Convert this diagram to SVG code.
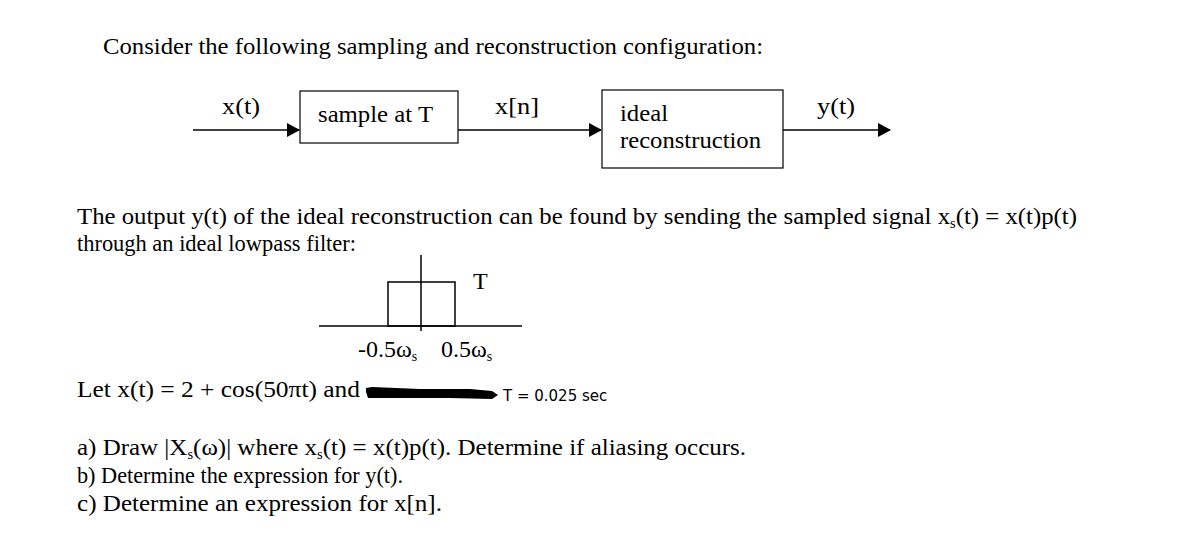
<svg xmlns="http://www.w3.org/2000/svg" width="1191" height="542" viewBox="0 0 1191 542">
<style>
text{font-family:"Liberation Serif",serif;font-size:24px;fill:#000}
.s{font-size:14px}
.box{fill:#fff;stroke:#000;stroke-width:1.2}
.ln{stroke:#000;stroke-width:1.5;fill:none}
</style>
<defs><marker id="a" markerWidth="14" markerHeight="14" refX="12" refY="7" orient="auto" markerUnits="userSpaceOnUse"><path d="M0,0 L13,7 L0,14 z"/></marker></defs>
<rect width="1191" height="542" fill="#fff"/>
<text x="103" y="54" textLength="660" lengthAdjust="spacingAndGlyphs">Consider the following sampling and reconstruction configuration:</text>
<g id="connectors">
<line class="ln" x1="193" y1="130" x2="299" y2="130" marker-end="url(#a)"/>
<line class="ln" x1="458" y1="130" x2="601" y2="130" marker-end="url(#a)"/>
<line class="ln" x1="783" y1="130" x2="890" y2="130" marker-end="url(#a)"/>
</g>
<text x="222" y="114" textLength="38" lengthAdjust="spacingAndGlyphs">x(t)</text>
<text x="495" y="114" textLength="44" lengthAdjust="spacingAndGlyphs">x[n]</text>
<text x="817" y="114" textLength="38" lengthAdjust="spacingAndGlyphs">y(t)</text>
<g id="sample"><rect class="box" x="300" y="91" width="158" height="52"/><text x="318" y="122" textLength="115" lengthAdjust="spacingAndGlyphs">sample at T</text></g>
<g id="recon"><rect class="box" x="602" y="90" width="181" height="78"/><text x="620" y="121" textLength="48" lengthAdjust="spacingAndGlyphs">ideal</text><text x="620" y="148" textLength="141" lengthAdjust="spacingAndGlyphs">reconstruction</text></g>
<text x="77" y="224" textLength="1000" lengthAdjust="spacingAndGlyphs">The output y(t) of the ideal reconstruction can be found by sending the sampled signal x<tspan class="s" dy="4">s</tspan><tspan dy="-4">(t) = x(t)p(t)</tspan></text>
<text x="77" y="251" textLength="279" lengthAdjust="spacingAndGlyphs">through an ideal lowpass filter:</text>
<g id="filter">
<line class="ln" x1="319" y1="326" x2="522" y2="326"/>
<line class="ln" x1="421" y1="255" x2="421" y2="331"/>
<rect x="388" y="282" width="67" height="44" fill="none" stroke="#000" stroke-width="1.5"/>
<text x="473" y="289">T</text>
<text x="358" y="357">-0.5ω<tspan class="s" dy="4">s</tspan></text>
<text x="441" y="357">0.5ω<tspan class="s" dy="4">s</tspan></text>
</g>
<text x="77" y="397" textLength="283" lengthAdjust="spacingAndGlyphs">Let x(t) = 2 + cos(50πt) and</text>
<path d="M366,388 L372,387 L420,389 L470,389 L492,391 L498,395 L492,399 L450,398 L400,398 L368,398 L366,392 z" fill="#000"/>
<text x="503" y="401" style="font-family:'DejaVu Sans',sans-serif;font-size:15px">T = 0.025 sec</text>
<text x="77" y="455" textLength="669" lengthAdjust="spacingAndGlyphs">a) Draw |X<tspan class="s" dy="4">s</tspan><tspan dy="-4">(ω)| where x</tspan><tspan class="s" dy="4">s</tspan><tspan dy="-4">(t) = x(t)p(t).  Determine if aliasing occurs.</tspan></text>
<text x="77" y="483" textLength="326" lengthAdjust="spacingAndGlyphs">b) Determine the expression for y(t).</text>
<text x="77" y="511" textLength="365" lengthAdjust="spacingAndGlyphs">c) Determine an expression for x[n].</text>
</svg>
